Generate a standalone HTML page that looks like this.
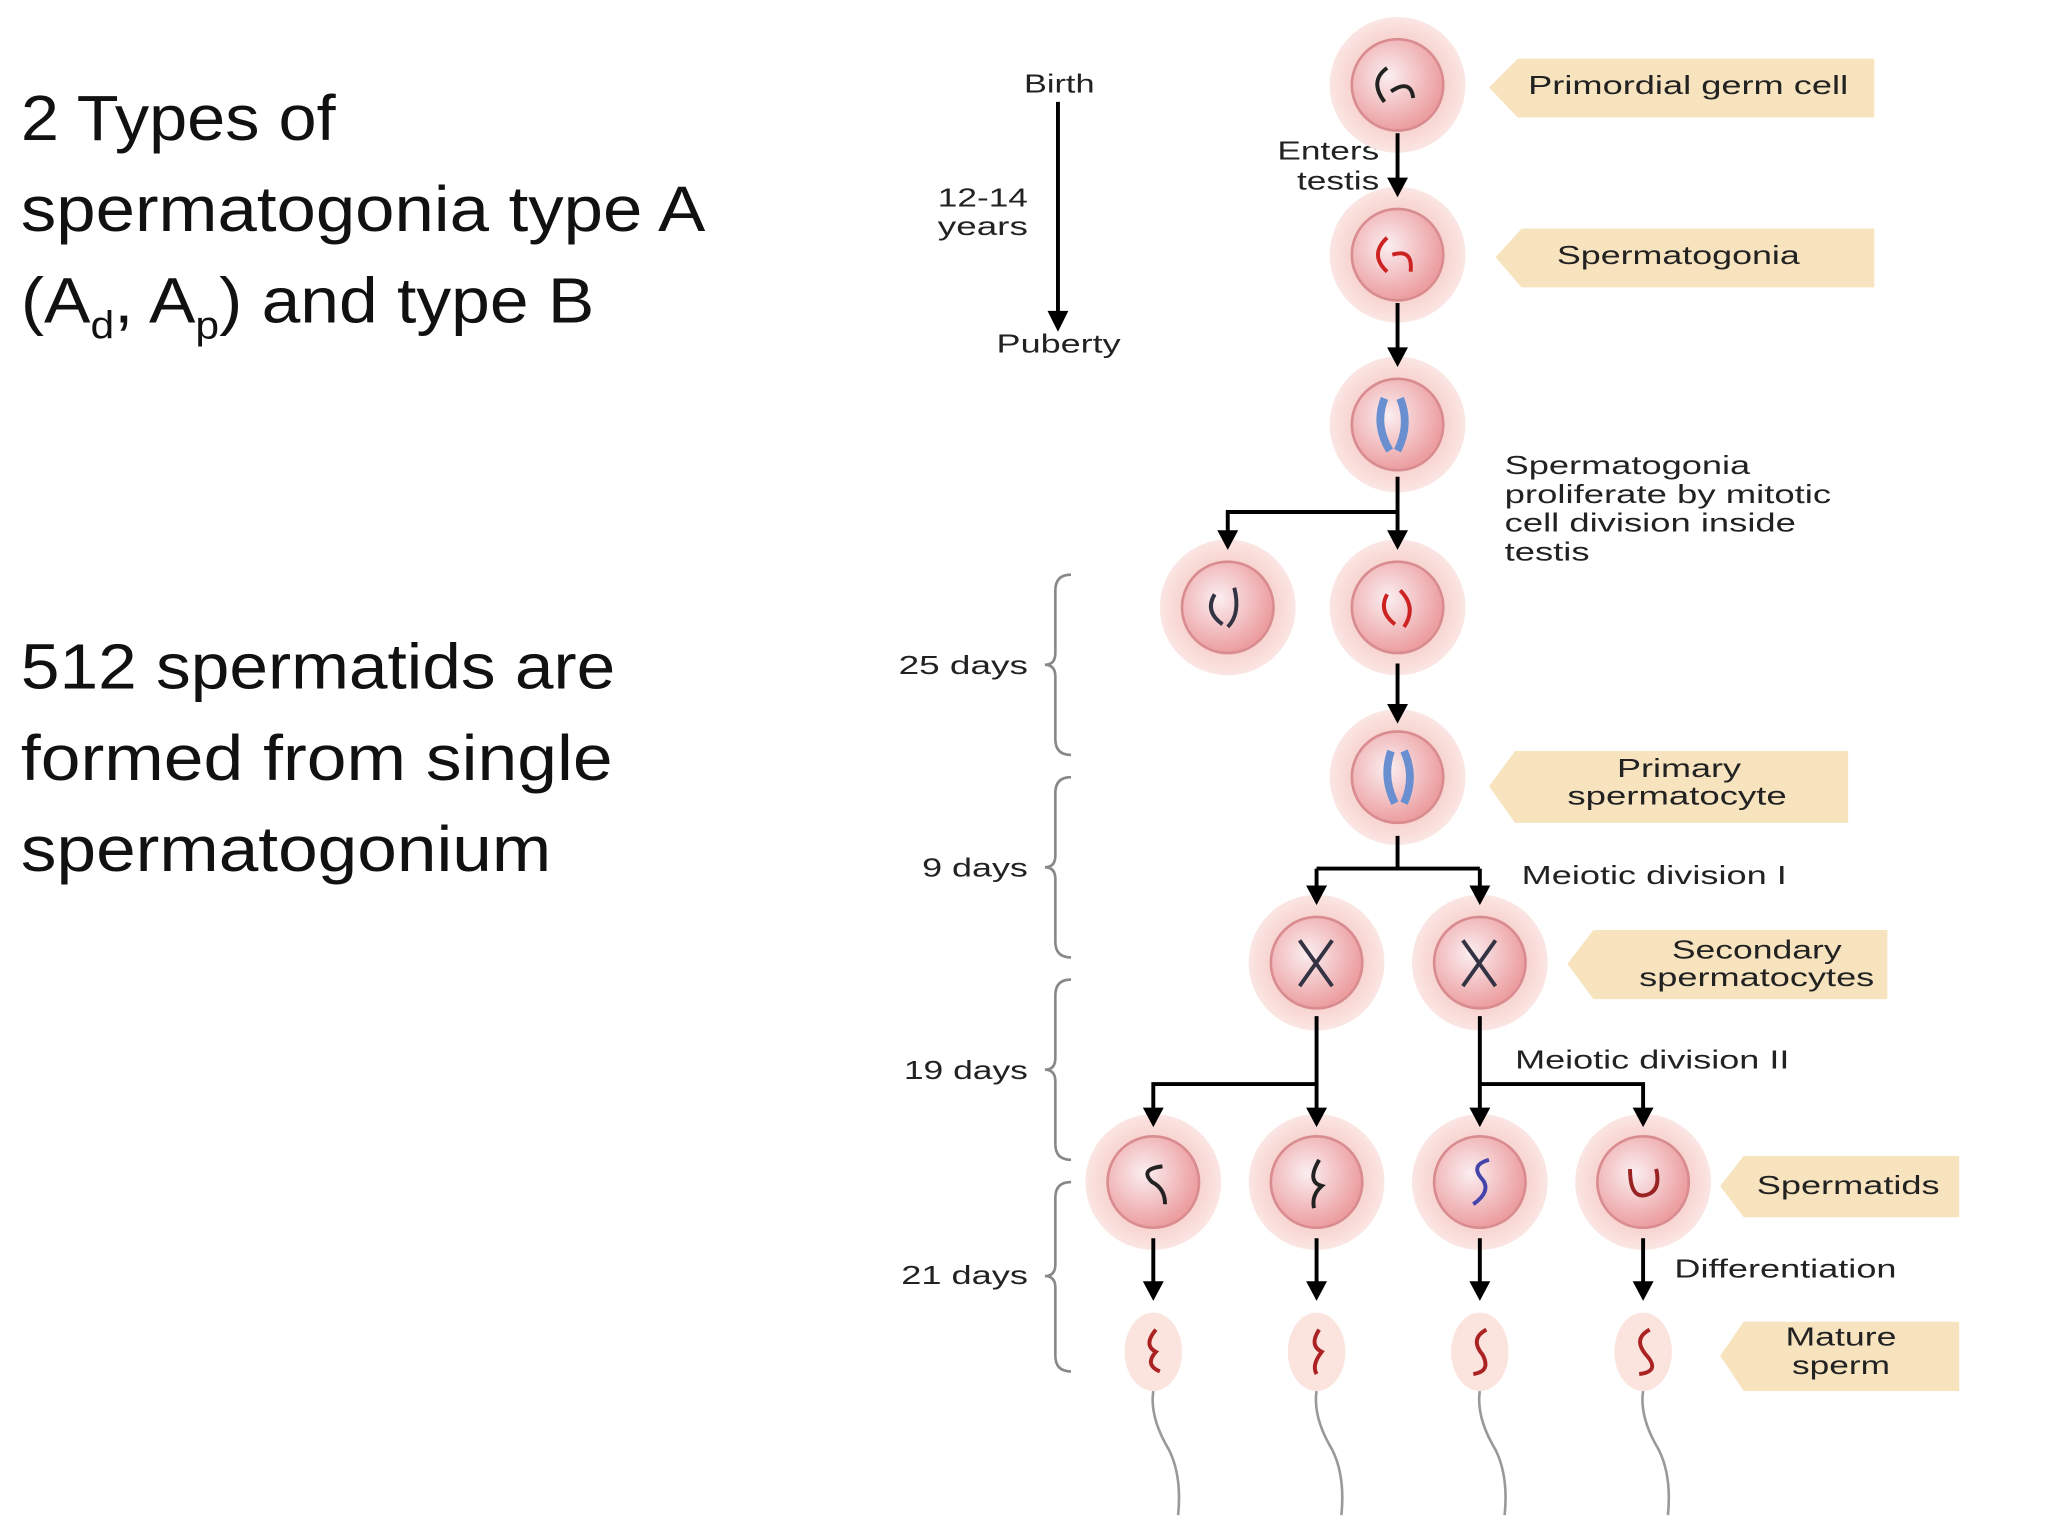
<!DOCTYPE html>
<html><head><meta charset="utf-8"><style>
html,body{margin:0;padding:0;background:#fff;width:2048px;height:1536px;overflow:hidden}
svg{display:block}
.l{font-family:"Liberation Sans",sans-serif;font-size:20px;fill:#222}
.big{font-family:"Liberation Sans",sans-serif;font-size:49px;fill:#111}
</style></head><body>
<svg width="2048" height="1536" viewBox="0 0 1568 1176" xmlns="http://www.w3.org/2000/svg">
<defs>
<radialGradient id="oc" cx="50%" cy="50%" r="50%"><stop offset="0.6" stop-color="#f6cfcb"/><stop offset="1" stop-color="#fbe6e3"/></radialGradient>
<radialGradient id="nc" cx="40%" cy="40%" r="60%"><stop offset="0" stop-color="#fbeef0"/><stop offset="1" stop-color="#ec9ea0"/></radialGradient>
<g id="cell"><circle r="52" fill="url(#oc)"/><circle r="35" fill="url(#nc)" stroke="#d98c90" stroke-width="2"/></g>
<g id="sp"><ellipse rx="22" ry="30" fill="#fbe3de"/></g>
</defs>
<rect width="1568" height="1176" fill="#fff"/>

<text class="big" x="16" y="107" textLength="241" lengthAdjust="spacingAndGlyphs">2 Types of</text>
<text class="big" x="16" y="177" textLength="524" lengthAdjust="spacingAndGlyphs">spermatogonia type A</text>
<text class="big" x="16" y="247" textLength="439" lengthAdjust="spacingAndGlyphs">(A<tspan font-size="30" dy="12">d</tspan><tspan dy="-12">, A</tspan><tspan font-size="30" dy="12">p</tspan><tspan dy="-12">) and type B</tspan></text>
<text class="big" x="16" y="527" textLength="455" lengthAdjust="spacingAndGlyphs">512 spermatids are</text>
<text class="big" x="16" y="597" textLength="453" lengthAdjust="spacingAndGlyphs">formed from single</text>
<text class="big" x="16" y="667" textLength="406" lengthAdjust="spacingAndGlyphs">spermatogonium</text>

<!-- timeline -->
<text class="l" x="784" y="71" textLength="54" lengthAdjust="spacingAndGlyphs">Birth</text>
<line x1="810" y1="78" x2="810" y2="240" stroke="#000" stroke-width="3"/>
<path d="M802,238 L818,238 L810,254 Z"/>
<text class="l" x="718" y="158" textLength="69" lengthAdjust="spacingAndGlyphs">12-14</text>
<text class="l" x="718" y="180" textLength="69" lengthAdjust="spacingAndGlyphs">years</text>
<text class="l" x="763" y="270" textLength="95" lengthAdjust="spacingAndGlyphs">Puberty</text>

<g fill="none" stroke="#888" stroke-width="2">
<path d="M820,440 Q808,440 808,452 L808,500 Q808,509 800,509 Q808,509 808,518 L808,566 Q808,578 820,578"/>
<path d="M820,595 Q808,595 808,607 L808,655 Q808,664 800,664 Q808,664 808,673 L808,721 Q808,733 820,733"/>
<path d="M820,750 Q808,750 808,762 L808,810 Q808,819 800,819 Q808,819 808,828 L808,876 Q808,888 820,888"/>
<path d="M820,905 Q808,905 808,917 L808,968 Q808,977 800,977 Q808,977 808,986 L808,1038 Q808,1050 820,1050"/>
</g>
<text class="l" x="688" y="516" textLength="99" lengthAdjust="spacingAndGlyphs">25 days</text>
<text class="l" x="706" y="671" textLength="81" lengthAdjust="spacingAndGlyphs">9 days</text>
<text class="l" x="692" y="826" textLength="95" lengthAdjust="spacingAndGlyphs">19 days</text>
<text class="l" x="690" y="983" textLength="97" lengthAdjust="spacingAndGlyphs">21 days</text>

<!-- labels -->
<g fill="#f7e4bf">
<path d="M1162,45 L1435,45 L1435,90 L1162,90 L1140,67 Z"/>
<path d="M1165,175 L1435,175 L1435,220 L1165,220 L1145,197 Z"/>
<path d="M1160,575 L1415,575 L1415,630 L1160,630 L1140,602 Z"/>
<path d="M1220,712 L1445,712 L1445,765 L1220,765 L1200,738 Z"/>
<path d="M1335,885 L1500,885 L1500,932 L1335,932 L1317,908 Z"/>
<path d="M1335,1012 L1500,1012 L1500,1065 L1335,1065 L1317,1038 Z"/>
</g>
<text class="l" x="1170" y="72" textLength="245" lengthAdjust="spacingAndGlyphs">Primordial germ cell</text>
<text class="l" x="1192" y="202" textLength="186" lengthAdjust="spacingAndGlyphs">Spermatogonia</text>
<text class="l" x="1238" y="595" textLength="95" lengthAdjust="spacingAndGlyphs">Primary</text>
<text class="l" x="1200" y="616" textLength="168" lengthAdjust="spacingAndGlyphs">spermatocyte</text>
<text class="l" x="1280" y="734" textLength="130" lengthAdjust="spacingAndGlyphs">Secondary</text>
<text class="l" x="1255" y="755" textLength="180" lengthAdjust="spacingAndGlyphs">spermatocytes</text>
<text class="l" x="1345" y="914" textLength="140" lengthAdjust="spacingAndGlyphs">Spermatids</text>
<text class="l" x="1367" y="1030" textLength="85" lengthAdjust="spacingAndGlyphs">Mature</text>
<text class="l" x="1372" y="1052" textLength="75" lengthAdjust="spacingAndGlyphs">sperm</text>
<text class="l" x="978" y="122" textLength="78" lengthAdjust="spacingAndGlyphs">Enters</text>
<text class="l" x="993" y="145" textLength="63" lengthAdjust="spacingAndGlyphs">testis</text>
<text class="l" x="1152" y="363" textLength="188" lengthAdjust="spacingAndGlyphs">Spermatogonia</text>
<text class="l" x="1152" y="385" textLength="250" lengthAdjust="spacingAndGlyphs">proliferate by mitotic</text>
<text class="l" x="1152" y="407" textLength="223" lengthAdjust="spacingAndGlyphs">cell division inside</text>
<text class="l" x="1152" y="429" textLength="65" lengthAdjust="spacingAndGlyphs">testis</text>
<text class="l" x="1165" y="677" textLength="203" lengthAdjust="spacingAndGlyphs">Meiotic division I</text>
<text class="l" x="1160" y="818" textLength="210" lengthAdjust="spacingAndGlyphs">Meiotic division II</text>
<text class="l" x="1282" y="978" textLength="170" lengthAdjust="spacingAndGlyphs">Differentiation</text>

<!-- cells -->
<use href="#cell" x="1070" y="65"/>
<use href="#cell" x="1070" y="195"/>
<use href="#cell" x="1070" y="325"/>
<use href="#cell" x="940" y="465"/>
<use href="#cell" x="1070" y="465"/>
<use href="#cell" x="1070" y="595"/>
<use href="#cell" x="1008" y="737"/>
<use href="#cell" x="1133" y="737"/>
<use href="#cell" x="883" y="905"/>
<use href="#cell" x="1008" y="905"/>
<use href="#cell" x="1133" y="905"/>
<use href="#cell" x="1258" y="905"/>
<g fill="none" stroke-width="3">
<path d="M1062,52 Q1048,62 1060,78 M1065,70 Q1080,60 1082,75" stroke="#222"/>
<path d="M1062,182 Q1048,195 1062,208 M1066,195 Q1082,190 1080,208" stroke="#c22"/>
<path d="M1060,305 Q1052,325 1064,345 M1072,305 Q1080,325 1070,345" stroke="#6a8fd0" stroke-width="6"/>
<path d="M930,455 Q922,468 936,478 M945,450 Q950,470 940,480" stroke="#334"/>
<path d="M1062,455 Q1055,468 1068,478 M1072,452 Q1085,465 1075,480" stroke="#c22"/>
<path d="M1065,575 Q1058,595 1068,615 M1075,575 Q1084,595 1075,615" stroke="#6a8fd0" stroke-width="6"/>
<path d="M995,720 L1020,755 M1020,720 L995,755" stroke="#334"/>
<path d="M1120,720 L1145,755 M1145,720 L1120,755" stroke="#334"/>
<path d="M890,893 Q872,895 882,905 Q892,910 892,922" stroke="#222"/>
<path d="M1010,888 Q1000,905 1012,908 Q1004,915 1006,925" stroke="#222"/>
<path d="M1140,888 Q1125,892 1135,903 Q1142,912 1128,922" stroke="#44a"/>
<path d="M1248,895 Q1248,918 1260,915 Q1272,912 1268,895" stroke="#922"/>
</g>
<!-- sperm -->
<g fill="none" stroke="#999" stroke-width="2">
<path d="M883,1065 Q880,1085 895,1110 Q905,1130 902,1160"/>
<path d="M1008,1065 Q1005,1085 1020,1110 Q1030,1130 1027,1160"/>
<path d="M1133,1065 Q1130,1085 1145,1110 Q1155,1130 1152,1160"/>
<path d="M1258,1065 Q1255,1085 1270,1110 Q1280,1130 1277,1160"/>
</g>
<use href="#sp" x="883" y="1035"/><use href="#sp" x="1008" y="1035"/><use href="#sp" x="1133" y="1035"/><use href="#sp" x="1258" y="1035"/>
<g fill="none" stroke="#a22" stroke-width="3">
<path d="M885,1018 Q875,1030 885,1035 Q876,1045 888,1050"/>
<path d="M1010,1018 Q1002,1030 1012,1035 Q1004,1045 1008,1052"/>
<path d="M1138,1018 Q1125,1025 1135,1037 Q1142,1050 1128,1052"/>
<path d="M1263,1018 Q1250,1025 1260,1037 Q1272,1050 1255,1052"/>
</g>

<!-- arrows -->
<g stroke="#000" stroke-width="3" fill="none">
<path d="M1070,102 V140"/><path d="M1070,232 V270"/>
<path d="M1070,365 V410 M1070,392 H940 V410"/>
<path d="M1070,508 V543"/>
<path d="M1070,640 V665 M1008,665 H1133 M1008,665 V682 M1133,665 V682"/>
<path d="M1008,778 V852 M1008,830 H883 V852"/>
<path d="M1133,778 V852 M1133,830 H1258 V852"/>
<path d="M883,948 V985 M1008,948 V985 M1133,948 V985 M1258,948 V985"/>
</g>
<g fill="#000">
<path d="M1062,136 h16 l-8,15z"/><path d="M1062,266 h16 l-8,15z"/>
<path d="M1062,406 h16 l-8,15z"/><path d="M932,406 h16 l-8,15z"/>
<path d="M1062,539 h16 l-8,15z"/>
<path d="M1000,678 h16 l-8,15z"/><path d="M1125,678 h16 l-8,15z"/>
<path d="M875,848 h16 l-8,15z"/><path d="M1000,848 h16 l-8,15z"/><path d="M1125,848 h16 l-8,15z"/><path d="M1250,848 h16 l-8,15z"/>
<path d="M875,981 h16 l-8,15z"/><path d="M1000,981 h16 l-8,15z"/><path d="M1125,981 h16 l-8,15z"/><path d="M1250,981 h16 l-8,15z"/>
</g>
</svg>
</body></html>
